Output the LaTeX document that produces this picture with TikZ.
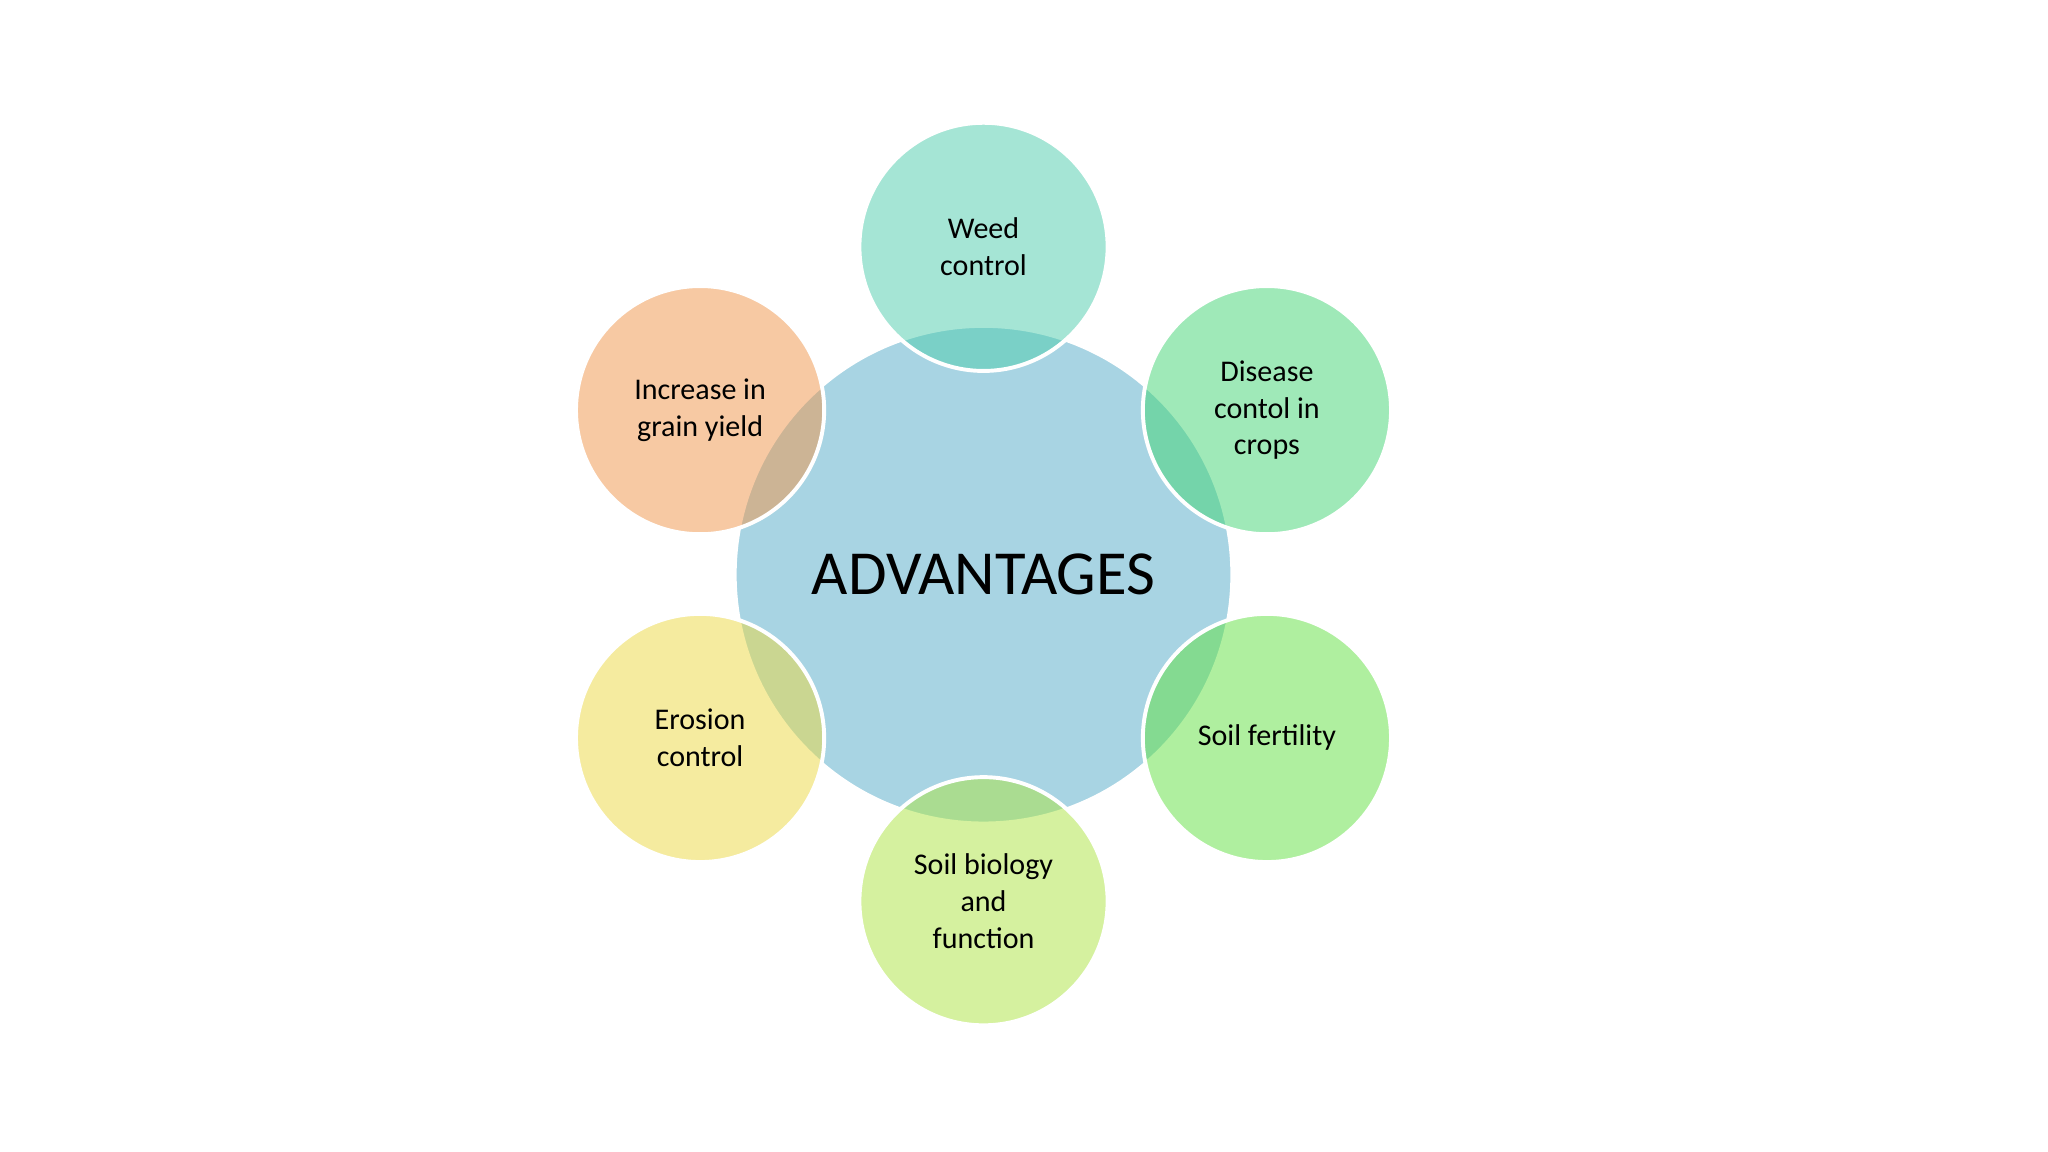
\documentclass[tikz,border=0pt]{standalone}
\usepackage{fontspec}
\setmainfont{Carlito}
\begin{document}
\begin{tikzpicture}[x=0.5pt,y=-0.5pt,
  big/.style={circle,minimum size=381*0.5pt,fill=cB,draw=white,line width=1.5pt,font=\fontsize{24}{28}\selectfont,inner sep=0pt},
  sat/.style={circle,minimum size=190*0.5pt,fill=#1,fill opacity=0.5,text opacity=1,draw=white,line width=1.5pt,align=center,font=\fontsize{11.5}{14}\selectfont,inner sep=0pt}]
\definecolor{cB}{RGB}{168,212,227}
\definecolor{c1}{RGB}{77,205,173}
\definecolor{c2}{RGB}{65,213,115}
\definecolor{c3}{RGB}{97,225,65}
\definecolor{c4}{RGB}{173,229,65}
\definecolor{c5}{RGB}{237,217,65}
\definecolor{c6}{RGB}{241,149,73}
\useasboundingbox (0,0) rectangle (1568,882);
\fill[white] (0,0) rectangle (1568,882);
\node[big] (c) at (753,440) {ADVANTAGES};
\node[sat=c1] (a1) at (753,189) {Weed\\control};
\node[sat=c2] (a2) at (970,314) {Disease\\contol in\\crops};
\node[sat=c3] (a3) at (970,565) {Soil fertility};
\node[sat=c4] (a4) at (753,690) {Soil biology\\and\\function};
\node[sat=c5] (a5) at (536,565) {Erosion\\control};
\node[sat=c6] (a6) at (536,314) {Increase in\\grain yield};
\end{tikzpicture}
\end{document}
